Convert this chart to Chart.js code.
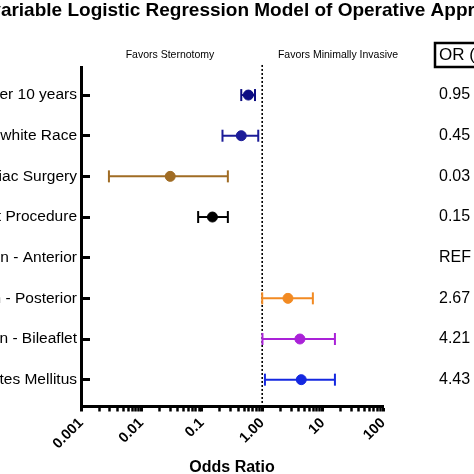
<!DOCTYPE html>
<html>
<head>
<meta charset="utf-8">
<script src="https://cdn.jsdelivr.net/npm/chart.js@4.4.0/dist/chart.umd.min.js"></script>
<style>
  html, body { margin: 0; padding: 0; background: #fff; overflow: hidden; }
  #wrap { width: 474px; height: 474px; position: relative; }
</style>
</head>
<body>
<div id="wrap"><canvas id="forestChart"></canvas></div>
<script>
// rows of the forest plot, top to bottom
const variables = [
  'Age per 10 years',
  'Nonwhite Race',
  'Prior Cardiac Surgery',
  'Concomitant Procedure',
  'Prolapse Location - Anterior',
  'Prolapse Location - Posterior',
  'Prolapse Location - Bileaflet',
  'Diabetes Mellitus'
];
const oddsRatios = [0.59, 0.45, 0.03, 0.15, null, 2.67, 4.21, 4.43];
const ciLower    = [0.45, 0.22, 0.0029, 0.087, null, 1.0, 1.01, 1.11];
const ciUpper    = [0.76, 0.86, 0.27, 0.27, null, 6.9, 16, 16];
const orText     = ['0.95', '0.45', '0.03', '0.15', 'REF', '2.67', '4.21', '4.43'];
const rowColors  = ['#0c0c82', '#1b1b98', '#a06c24', '#000000', null, '#f28a22', '#aa22d8', '#1428e0'];

const xTickValues = [0.001, 0.01, 0.1, 1, 10, 100];
const xTickLabels = ['0.001', '0.01', '0.1', '1.00', '10', '100'];
const nullLine = 1;

const yMin = -0.69, yMax = 7.66;
const FONT = 'Liberation Sans, Arial, Helvetica, sans-serif';
Chart.defaults.font.family = FONT;
Chart.defaults.color = '#000';

const datasets = [];
variables.forEach((name, i) => {
  if (oddsRatios[i] === null) return;
  datasets.push({
    label: name + ' 95% CI',
    data: [{ x: ciLower[i], y: i }, { x: ciUpper[i], y: i }],
    showLine: true,
    borderColor: rowColors[i],
    borderWidth: 2,
    pointStyle: 'line',
    rotation: 90,
    pointRadius: 6,
    pointHoverRadius: 6,
    pointBorderWidth: 2,
    pointBorderColor: rowColors[i],
    order: 2,
    clip: false
  });
});
const shown = variables.map((_, i) => i).filter(i => oddsRatios[i] !== null);
datasets.push({
  label: 'OR',
  data: shown.map(i => ({ x: oddsRatios[i], y: i })),
  pointRadius: 5,
  pointHoverRadius: 5,
  pointBackgroundColor: shown.map(i => rowColors[i]),
  pointBorderColor: shown.map(i => rowColors[i]),
  pointBorderWidth: 1,
  order: 1,
  clip: false
});
datasets.push({
  label: 'No effect',
  data: [{ x: nullLine, y: yMin - 0.05 }, { x: nullLine, y: yMax }],
  showLine: true,
  borderColor: '#000',
  borderWidth: 1.6,
  borderDash: [2, 2],
  pointRadius: 0,
  order: 3,
  clip: false
});

const extras = {
  id: 'extras',
  afterDraw(chart) {
    const c = chart.ctx;
    const ys = chart.scales.y;
    c.save();
    c.fillStyle = '#000';
    // title (cropped in the original figure)
    c.font = 'bold 19px ' + FONT;
    c.textAlign = 'left';
    c.textBaseline = 'alphabetic';
    c.fillText('Multivariable Logistic Regression Model of Operative Approach', -54, 16);
    // favors labels
    c.font = '10.5px ' + FONT;
    c.textAlign = 'center';
    c.textBaseline = 'middle';
    c.fillText('Favors Sternotomy', 170, 55);
    c.fillText('Favors Minimally Invasive', 338, 55);
    // OR column
    c.lineWidth = 2.5;
    c.strokeStyle = '#000';
    c.strokeRect(435, 43, 60, 24);
    c.textAlign = 'left';
    c.font = '17px ' + FONT;
    c.fillText('OR (95% CI)', 439, 55.5);
    c.font = '16px ' + FONT;
    orText.forEach((t, i) => c.fillText(t, 439, ys.getPixelForValue(i)));
    c.restore();
  }
};

new Chart(document.getElementById('forestChart'), {
  type: 'scatter',
  data: { datasets },
  options: {
    responsive: true,
    maintainAspectRatio: false,
    animation: false,
    layout: { padding: { top: 67, right: 91, left: 0, bottom: 0 } },
    plugins: { legend: { display: false }, tooltip: { enabled: false } },
    scales: {
      x: {
        type: 'logarithmic',
        min: 0.001,
        max: 100,
        afterBuildTicks: s => {
          const t = [];
          xTickValues.forEach((d, k) => {
            t.push({ value: d, major: true });
            if (k < xTickValues.length - 1) {
              for (let m = 2; m <= 9; m++) t.push({ value: d * m, major: false });
            }
          });
          s.ticks = t;
        },
        afterFit: s => { s.height = 67.5; },
        ticks: {
          autoSkip: false,
          minRotation: 45,
          maxRotation: 45,
          padding: 3,
          font: { size: 14.5, weight: 'bold' },
          callback: v => {
            const k = xTickValues.indexOf(v);
            return k >= 0 ? xTickLabels[k] : '';
          }
        },
        grid: {
          drawOnChartArea: false,
          tickLength: 5,
          tickColor: '#000',
          tickWidth: ctx => (ctx.tick && ctx.tick.major ? 3 : 2.5)
        },
        border: { color: '#000', width: 3 },
        title: {
          display: true,
          text: 'Odds Ratio',
          font: { size: 16, weight: 'bold' },
          padding: { top: 0, bottom: -3 }
        }
      },
      y: {
        type: 'linear',
        reverse: true,
        min: yMin,
        max: yMax,
        afterBuildTicks: s => { s.ticks = variables.map((_, i) => ({ value: i })); },
        afterFit: s => { s.width = 81; },
        ticks: {
          autoSkip: false,
          padding: 13,
          font: { size: 15.5 },
          callback: v => variables[v]
        },
        grid: {
          drawOnChartArea: false,
          tickLength: -9,
          tickWidth: 3,
          tickColor: '#000'
        },
        border: { color: '#000', width: 3 }
      }
    }
  },
  plugins: [extras]
});
</script>
</body>
</html>
